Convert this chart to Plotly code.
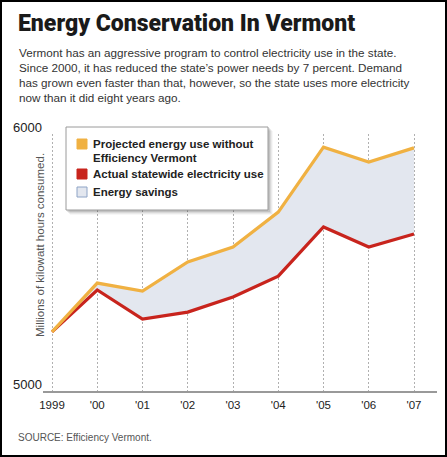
import plotly.graph_objects as go

# values (millions of kWh)
years = [1999, 2000, 2001, 2002, 2003, 2004, 2005, 2006, 2007]
year_labels = ["1999", "'00", "'01", "'02", "'03", "'04", "'05", "'06", "'07"]
projected = [5230, 5420, 5389, 5502, 5560, 5696, 5949, 5891, 5946]
actual = [5230, 5393, 5280, 5307, 5366, 5447, 5638, 5560, 5611]
y_ticks = [5000, 6000]

ORANGE = "#f0b142"
RED = "#c8241d"
FILL = "#e3e7ef"
FONT = "Liberation Sans, Arial, sans-serif"

W, H = 447, 457
L, R, T, B = 43, 10, 134, 66


# pixel -> paper helpers for the decoration around the plot
def px(x):
    return (x - L) / (W - L - R)


def py(y):
    return (H - B - y) / (H - T - B)


fig = go.Figure()
fig.add_trace(go.Scatter(x=years, y=actual, mode="lines",
                         line=dict(color=RED, width=3.2), showlegend=False))
fig.add_trace(go.Scatter(x=years, y=projected, mode="lines", fill="tonexty",
                         fillcolor=FILL, line=dict(color=ORANGE, width=3.2),
                         showlegend=False))

# legend box drawn by hand (squares + shadow)
shapes = []
for i, a in enumerate([0.10, 0.07, 0.05, 0.03]):
    o = i + 1
    shapes.append(dict(type="rect", xref="paper", yref="paper",
                       x0=px(66 + o), x1=px(268 + o + 1), y0=py(127 + o), y1=py(210 + o + 1),
                       line=dict(width=0), fillcolor="rgba(0,0,0,%s)" % a))
shapes.append(dict(type="rect", xref="paper", yref="paper",
                   x0=px(66), x1=px(268), y0=py(127), y1=py(210),
                   line=dict(color="#9a9a9a", width=1), fillcolor="white"))
swatches = [(139, ORANGE, ORANGE), (169, RED, RED), (187, FILL, "#8ea4c6")]
for top, fc, lc in swatches:
    shapes.append(dict(type="rect", xref="paper", yref="paper",
                       x0=px(77), x1=px(87), y0=py(top), y1=py(top + 10),
                       line=dict(color=lc, width=1), fillcolor=fc))
# outer frame
shapes.append(dict(type="rect", xref="paper", yref="paper",
                   x0=px(1), x1=px(446), y0=py(1), y1=py(456),
                   line=dict(color="black", width=2)))

annotations = [
    dict(text="Energy Conservation In Vermont", x=px(16), y=py(24),
         font=dict(size=23, color="#1a1a1a", family="Roboto, Liberation Sans, sans-serif", weight=900)),
    dict(text="Vermont has an aggressive program to control electricity use in the state.", x=px(17), y=py(52),
         font=dict(size=11.7, color="#333")),
    dict(text="Since 2000, it has reduced the state\u2019s power needs by 7 percent. Demand", x=px(17), y=py(67),
         font=dict(size=11.7, color="#333")),
    dict(text="has grown even faster than that, however, so the state uses more electricity", x=px(17), y=py(82),
         font=dict(size=11.7, color="#333")),
    dict(text="now than it did eight years ago.", x=px(17), y=py(97),
         font=dict(size=11.7, color="#333")),
    dict(text="<b>Projected energy use without</b>", x=px(91), y=py(144),
         font=dict(size=11.5, color="#222")),
    dict(text="<b>Efficiency Vermont</b>", x=px(91), y=py(158),
         font=dict(size=11.5, color="#222")),
    dict(text="<b>Actual statewide electricity use</b>", x=px(91), y=py(174),
         font=dict(size=11.5, color="#222")),
    dict(text="<b>Energy savings</b>", x=px(91), y=py(192),
         font=dict(size=11.5, color="#222")),
    dict(text="SOURCE: Efficiency Vermont.", x=px(16), y=py(437),
         font=dict(size=10, color="#555", family="Liberation Sans Narrow, Arial Narrow, sans-serif")),
]
for a in annotations:
    a.update(xref="paper", yref="paper", xanchor="left", yanchor="middle", showarrow=False)
    a["font"].setdefault("family", FONT)
annotations.append(dict(text="Millions of kilowatt hours consumed.", xref="paper", yref="paper",
                        x=px(40), y=py(245), textangle=-90, showarrow=False,
                        xanchor="center", yanchor="middle",
                        font=dict(size=11.5, color="#555", family=FONT)))

fig.update_layout(
    width=W, height=H,
    margin=dict(l=L, r=R, t=T, b=B),
    paper_bgcolor="white", plot_bgcolor="white",
    shapes=shapes, annotations=annotations,
    font=dict(family=FONT),
)
fig.update_xaxes(range=[1999 - 9 / 45.25, 2007 + 23 / 45.25],
                 tickvals=years, ticktext=year_labels,
                 tickfont=dict(size=11.5, color="#222"),
                 ticks="outside", ticklen=2, tickcolor="rgba(0,0,0,0)",
                 showline=True, linecolor="#999", linewidth=2,
                 showgrid=True, gridcolor="#b0b0b0", gridwidth=1, griddash="2px,2px",
                 zeroline=False, fixedrange=True)
fig.update_yaxes(range=[5000, 6000], tickvals=y_ticks, ticktext=[str(v) for v in y_ticks],
                 tickfont=dict(size=13, color="#222"),
                 ticks="inside", ticklen=9, tickcolor="#777", tickwidth=1,
                 ticklabelshift=-7, ticklabelstandoff=0,
                 showgrid=False, zeroline=False, showline=False, fixedrange=True)

# drop the default page margin so the figure sits at the window's corner
fig.write_html("out.html", config={"displayModeBar": False},
               post_script="document.body.style.margin='0';")
